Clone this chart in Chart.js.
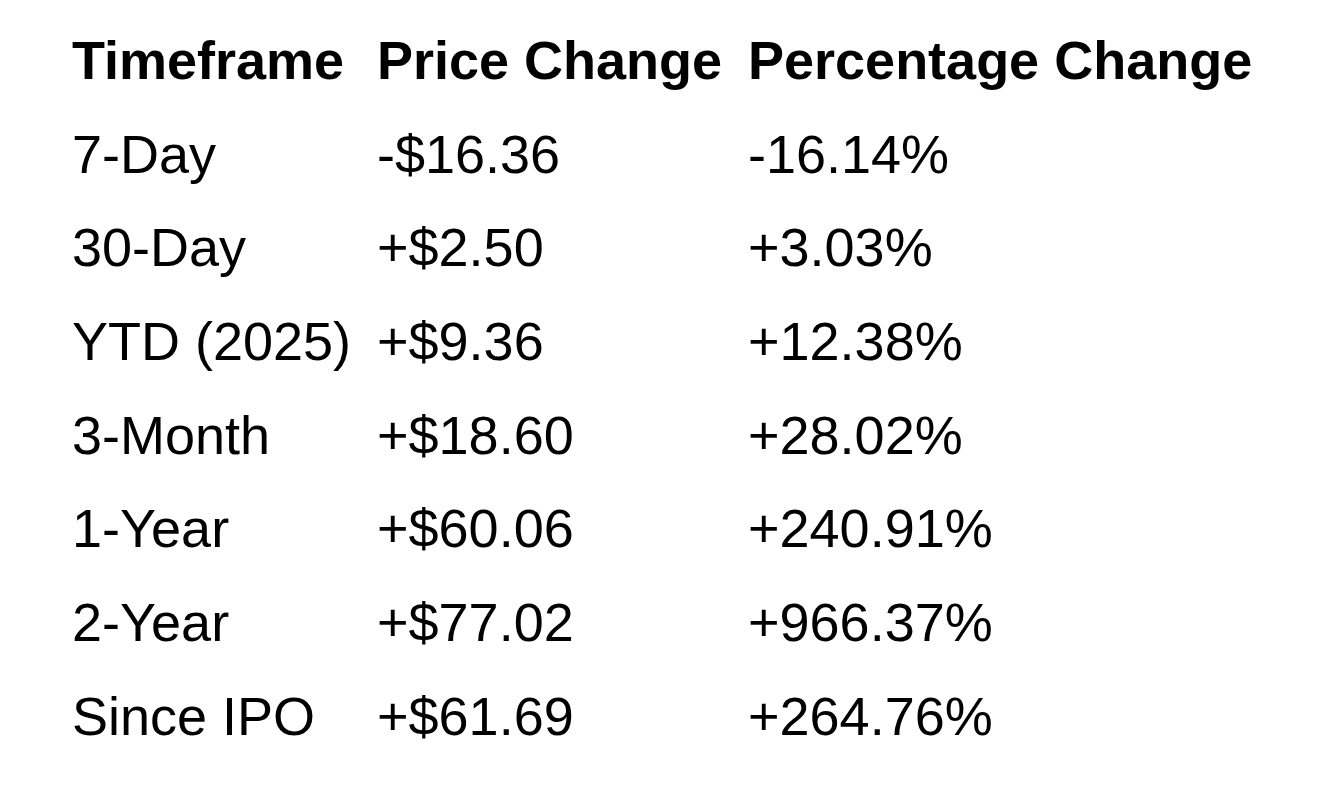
<html>
<head>
<style>
html, body { margin:0px; background:#fff; }
</style>
<script src="https://cdn.jsdelivr.net/npm/chart.js@4"></script>
</head>
<body>
<div style="position: relative; width:1338px; height:792px;">
<canvas id="myChart"></canvas>
</div>
<script>
// table contents
const headers = ["Timeframe", "Price Change", "Percentage Change"];
const timeframes = ["7-Day", "30-Day", "YTD (2025)", "3-Month", "1-Year", "2-Year", "Since IPO"];
const priceChanges = ["-$16.36", "+$2.50", "+$9.36", "+$18.60", "+$60.06", "+$77.02", "+$61.69"];
const pctChanges = ["-16.14%", "+3.03%", "+12.38%", "+28.02%", "+240.91%", "+966.37%", "+264.76%"];

const rowLabels = ["header"].concat(timeframes);
const colX = [72, 377, 748]; // left edge of each column, in x-scale units

const tablePlugin = {
  id: 'tableText',
  afterDraw(chart) {
    const c = chart.ctx;
    const xs = chart.scales.x, ys = chart.scales.y;
    c.save();
    c.fillStyle = '#000';
    c.textAlign = 'left';
    c.textBaseline = 'middle';
    c.font = 'bold 54px "Liberation Sans", Arial, sans-serif';
    headers.forEach((h, j) => c.fillText(h, xs.getPixelForValue(colX[j]), ys.getPixelForValue(0)));
    c.font = '54px "Liberation Sans", Arial, sans-serif';
    timeframes.forEach((t, i) => {
      const y = ys.getPixelForValue(i + 1);
      c.fillText(t, xs.getPixelForValue(colX[0]), y);
      c.fillText(priceChanges[i], xs.getPixelForValue(colX[1]), y);
      c.fillText(pctChanges[i], xs.getPixelForValue(colX[2]), y);
    });
    c.restore();
  }
};

const ctx = document.getElementById('myChart');
const myChart = new Chart(ctx, {
  type: 'scatter',
  data: { labels: rowLabels, datasets: [{ data: [] }] },
  options: {
    responsive: true,
    maintainAspectRatio: false,
    animation: false,
    layout: { padding: { top: 64, bottom: 72, left: 0, right: 0 } },
    plugins: { legend: { display: false }, tooltip: { enabled: false } },
    scales: {
      x: { type: 'linear', min: 0, max: 1338, display: false },
      y: { type: 'category', labels: rowLabels, offset: false, display: false }
    }
  },
  plugins: [tablePlugin]
});
</script>
</body>
</html>
